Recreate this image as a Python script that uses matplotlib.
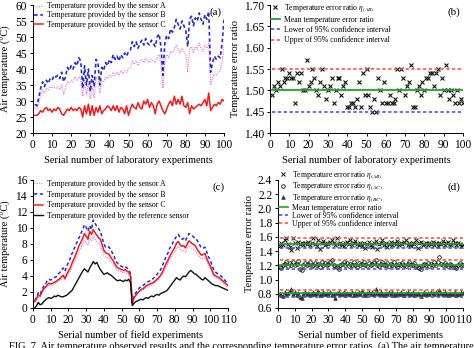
import matplotlib

matplotlib.use("Agg")

import matplotlib.pyplot as plt
import numpy as np

plt.rcParams.update(
    {
        "font.family": ["Liberation Serif", "DejaVu Serif"],
        "mathtext.fontset": "stix",
        "font.size": 7.5,
        "axes.labelsize": 7.5,
        "xtick.labelsize": 8.3,
        "ytick.labelsize": 8.3,
        "axes.linewidth": 0.7,
        "xtick.direction": "out",
        "ytick.direction": "out",
        "xtick.major.size": 2.2,
        "ytick.major.size": 2.2,
        "xtick.major.width": 0.7,
        "ytick.major.width": 0.7,
        "xtick.major.pad": 2,
        "ytick.major.pad": 2,
        "axes.spines.top": False,
        "axes.spines.right": False,
    }
)

# ---------------------------------------------------------------- data (a)
lab_a = [28, 27.5, 29.5, 31.5, 33.5, 32.5, 34, 33.5, 34.5, 34,
         34.5, 34, 34.5, 33.5, 35, 32, 34, 36, 35.5, 36.5,
         36, 37.5, 36.5, 37.5, 37, 31.5, 36.5, 32, 35.5, 30.5,
         34.5, 31, 37.5, 37, 32.5, 36.5, 36, 37.5, 37, 38,
         37.5, 39, 38, 39, 38, 39.5, 38.5, 39.5, 39, 40,
         40.5, 42.5, 41.5, 42.5, 41, 42.5, 43, 42, 43.5, 42.5,
         42, 43, 42.5, 42, 43.5, 44.5, 41.5, 34, 42.5, 44.5,
         43.5, 45.5, 45, 46, 47.5, 46.5, 45, 46.5, 45.5, 44.5,
         39, 46.5, 47, 45, 47, 46, 48, 46.5, 45.5, 47.5,
         46.5, 48, 35, 37.5, 38.5, 38, 39, 39.5, 42, 47]
lab_b = [29, 28.5, 31, 34, 36, 34.5, 36.5, 35.5, 37, 36.5,
         38, 37.5, 38, 37, 39, 36, 37.5, 40.5, 39.5, 41,
         40, 42, 41, 43.5, 42.5, 34, 41, 35, 40, 33,
         38, 34.5, 43, 42, 35, 40.5, 39.5, 42, 41, 43,
         42, 44.5, 43, 44, 42.5, 44.5, 43.5, 45, 44, 45.5,
         46, 48.5, 47, 48.5, 46.5, 48, 49, 47.5, 49.5, 48,
         47.5, 49, 48, 47, 50, 51, 47, 38, 48, 50.5,
         49.5, 52.5, 51.5, 53, 55.5, 54, 52.5, 55, 53.5, 52,
         47, 55.5, 56.5, 53.5, 56, 55, 57.5, 55.5, 54, 57,
         55.5, 58, 39, 42, 44, 43, 44, 43.5, 48, 55.5]
lab_c = [25.5, 25.5, 26, 27, 26.5, 27.5, 28, 27, 27.5, 26.5,
         27.5, 27, 28, 27.5, 26, 25.5, 26.5, 27.5, 27, 28,
         27, 27.5, 27, 28, 27.5, 25, 28.5, 26, 29, 25.5,
         28.5, 25.5, 28, 26.5, 28.5, 26, 27, 27.5, 28.5, 28,
         27, 28.5, 27, 28.5, 26.5, 28, 27.5, 26, 28.5, 25.5,
         27.5, 29, 28, 27.5, 29.5, 28, 27.5, 30, 29, 30.5,
         28, 29.5, 28.5, 26, 29, 30, 28.5, 27, 26, 27.5,
         29, 30, 28.5, 31.5, 29, 30.5, 29, 31.5, 28.5, 28,
         29.5, 26, 28.5, 27.5, 28, 28.5, 29, 28.5, 29.5, 30.5,
         28.5, 32.5, 27, 28, 29, 28.5, 29.5, 29, 30.5, 30]

# ---------------------------------------------------------------- data (b)
ratio_ab_lab = [1.49, 1.51, 1.50, 1.52, 1.51, 1.55, 1.52, 1.53, 1.53, 1.54,
                1.53, 1.53, 1.47, 1.54, 1.52, 1.54, 1.50, 1.50, 1.57, 1.51,
                1.52, 1.55, 1.53, 1.50, 1.49, 1.52, 1.55, 1.51, 1.48, 1.50,
                1.51, 1.53, 1.47, 1.50, 1.53, 1.53, 1.49, 1.51, 1.52, 1.46,
                1.46, 1.47, 1.47, 1.46, 1.48, 1.52, 1.46, 1.54, 1.49, 1.55,
                1.49, 1.46, 1.45, 1.48, 1.45, 1.53, 1.50, 1.47, 1.52, 1.47,
                1.47, 1.49, 1.47, 1.47, 1.48, 1.55, 1.50, 1.55, 1.53, 1.49,
                1.51, 1.52, 1.56, 1.46, 1.46, 1.50, 1.51, 1.49, 1.52, 1.50,
                1.53, 1.53, 1.54, 1.54, 1.51, 1.54, 1.55, 1.49, 1.53, 1.50,
                1.56, 1.50, 1.48, 1.50, 1.49, 1.47, 1.50, 1.47, 1.48, 1.47]
lab_mean, lab_lo, lab_hi = 1.50, 1.45, 1.55

# ---------------------------------------------------------------- data (c)
field_a = [0.7, 1.1, 1.4, 1.3, 1.8, 2.2, 2.4, 2.7, 2.9, 2.8,
           2.9, 3.0, 3.1, 3.3, 3.4, 3.6, 3.8, 3.5, 3.9, 4.3,
           4.6, 5.1, 5.6, 6.0, 6.6, 7.1, 7.5, 7.9, 8.5, 8.2,
           7.9, 8.8, 8.4, 9.0, 8.6, 8.3, 8.0, 7.9, 7.2, 6.6,
           6.4, 6.3, 6.2, 5.8, 5.6, 5.2, 4.8, 4.7, 4.6, 4.5,
           4.4, 4.5, 4.3, 4.2, 3.8, 0.5, 1.2, 1.5, 1.8, 2.0,
           2.2, 2.3, 2.4, 2.6, 2.7, 2.8, 2.9, 3.0, 3.2, 3.4,
           3.6, 3.9, 4.2, 4.7, 5.1, 5.5, 5.9, 6.3, 6.7, 7.0,
           7.5, 7.7, 7.3, 7.1, 7.2, 7.0, 7.4, 7.8, 7.6, 7.4,
           7.3, 7.0, 6.7, 6.4, 6.1, 6.2, 6.3, 5.8, 5.3, 4.9,
           4.4, 3.9, 3.8, 3.7, 3.6, 3.4, 3.2, 3.0, 2.8, 2.6]
field_b = [0.9, 1.4, 1.9, 1.7, 2.3, 2.7, 3.0, 3.4, 3.6, 3.5,
           3.6, 3.8, 3.9, 4.2, 4.4, 4.7, 5.0, 4.6, 5.2, 5.7,
           6.2, 6.8, 7.3, 7.8, 8.3, 8.8, 9.3, 9.8, 10.4, 10.1,
           9.6, 10.3, 9.8, 11.0, 10.6, 10.2, 9.9, 9.6, 8.8, 8.0,
           7.6, 7.7, 7.6, 7.2, 6.8, 6.3, 5.8, 5.5, 5.3, 5.2,
           5.1, 5.2, 5.0, 4.8, 4.3, 0.7, 1.5, 1.9, 2.2, 2.5,
           2.7, 2.8, 3.0, 3.2, 3.3, 3.4, 3.6, 3.7, 4.0, 4.2,
           4.5, 4.8, 5.3, 5.8, 6.4, 6.8, 7.4, 7.8, 8.2, 8.6,
           9.0, 9.2, 8.8, 8.6, 8.7, 8.4, 8.9, 9.3, 9.2, 9.0,
           8.8, 8.7, 8.3, 7.9, 7.5, 7.5, 7.6, 7.0, 6.4, 6.0,
           5.3, 4.8, 4.5, 4.3, 4.2, 4.0, 3.8, 3.5, 3.3, 3.0]
field_c = [0.8, 1.2, 1.6, 1.5, 2.0, 2.4, 2.6, 2.9, 3.1, 3.0,
           3.1, 3.2, 3.3, 3.5, 3.6, 3.9, 4.1, 3.7, 4.2, 4.6,
           5.0, 5.6, 6.1, 6.6, 7.2, 7.8, 8.2, 8.7, 9.3, 9.0,
           8.6, 9.6, 9.2, 9.8, 9.4, 9.1, 8.8, 8.6, 7.9, 7.2,
           6.9, 6.8, 6.7, 6.3, 6.0, 5.6, 5.2, 5.0, 4.9, 4.8,
           4.7, 4.8, 4.6, 4.5, 4.0, 0.6, 1.3, 1.6, 1.9, 2.1,
           2.3, 2.4, 2.6, 2.8, 2.9, 3.0, 3.1, 3.2, 3.4, 3.6,
           3.8, 4.1, 4.5, 5.0, 5.5, 5.9, 6.4, 6.8, 7.2, 7.6,
           8.1, 8.3, 7.9, 7.7, 7.8, 7.5, 8.0, 8.4, 8.2, 8.0,
           7.9, 7.6, 7.2, 6.9, 6.6, 6.7, 6.8, 6.2, 5.7, 5.3,
           4.7, 4.2, 4.0, 3.9, 3.8, 3.6, 3.4, 3.2, 3.0, 2.8]
field_ref = [0.0, 0.3, 0.7, 0.4, 0.5, 0.8, 1.0, 1.2, 1.3, 1.2,
             1.3, 1.5, 1.4, 1.6, 1.5, 1.4, 1.4, 1.5, 1.6, 1.8,
             2.0, 2.2, 2.6, 3.0, 3.4, 3.8, 4.2, 4.6, 4.9, 4.7,
             4.5, 5.0, 5.4, 5.8, 5.5, 5.7, 5.2, 4.8, 4.5, 4.2,
             4.3, 4.4, 4.2, 4.1, 3.9, 3.7, 3.5, 3.4, 3.5, 3.4,
             3.3, 3.5, 3.4, 3.6, 3.2, 0.3, 0.6, 0.8, 0.9, 1.0,
             1.1, 1.0, 1.2, 1.3, 1.2, 1.4, 1.5, 1.4, 1.6, 1.7,
             1.6, 1.8, 1.9, 2.0, 2.1, 2.3, 2.6, 2.9, 3.2, 3.5,
             3.8, 3.6, 3.5, 3.8, 4.0, 3.9, 4.2, 4.5, 4.7, 4.5,
             4.3, 4.2, 4.0, 3.8, 3.6, 3.5, 3.8, 3.6, 3.4, 3.2,
             3.0, 2.9, 2.8, 2.8, 2.7, 2.6, 2.5, 2.4, 2.3, 2.2]

# ---------------------------------------------------------------- data (d)
ratio_ab = [1.47, 1.52, 1.49, 1.55, 1.58, 1.50, 1.46, 1.42, 1.59, 1.51,
            1.45, 1.53, 1.50, 1.52, 1.48, 1.51, 1.50, 1.53, 1.49, 1.52,
            1.58, 1.50, 1.47, 1.55, 1.43, 1.51, 1.54, 1.49, 1.52, 1.50,
            1.53, 1.55, 1.51, 1.48, 1.59, 1.50, 1.52, 1.49, 1.47, 1.51,
            1.53, 1.50, 1.56, 1.48, 1.52, 1.54, 1.50, 1.49, 1.51, 1.47,
            1.52, 1.44, 1.50, 1.53, 1.49, 1.46, 1.51, 1.54, 1.43, 1.50,
            1.52, 1.55, 1.48, 1.51, 1.46, 1.50, 1.53, 1.49, 1.52, 1.50,
            1.54, 1.48, 1.51, 1.50, 1.53, 1.56, 1.49, 1.51, 1.47, 1.52,
            1.50, 1.55, 1.44, 1.51, 1.53, 1.49, 1.50, 1.52, 1.48, 1.51,
            1.50, 1.53, 1.49, 1.51, 1.47, 1.52, 1.50, 1.54, 1.49, 1.51,
            1.53, 1.50, 1.48, 1.55, 1.51, 1.49, 1.52, 1.50, 1.47, 1.49]
ratio_ac = [1.17, 1.16, 1.20, 1.22, 1.24, 1.19, 1.23, 1.21, 1.25, 1.20,
            1.22, 1.26, 1.15, 1.14, 1.21, 1.23, 1.20, 1.22, 1.24, 1.19,
            1.21, 1.23, 1.20, 1.22, 1.18, 1.24, 1.21, 1.23, 1.20, 1.22,
            1.25, 1.27, 1.21, 1.19, 1.17, 1.15, 1.20, 1.22, 1.24, 1.21,
            1.23, 1.19, 1.22, 1.20, 1.24, 1.21, 1.18, 1.23, 1.20, 1.22,
            1.24, 1.21, 1.19, 1.23, 1.20, 1.22, 1.25, 1.28, 1.21, 1.19,
            1.22, 1.24, 1.20, 1.21, 1.23, 1.19, 1.22, 1.20, 1.24, 1.21,
            1.18, 1.22, 1.20, 1.23, 1.21, 1.19, 1.22, 1.24, 1.20, 1.21,
            1.23, 1.19, 1.17, 1.16, 1.15, 1.20, 1.22, 1.21, 1.23, 1.19,
            1.22, 1.20, 1.24, 1.21, 1.25, 1.32, 1.22, 1.20, 1.23, 1.21,
            1.19, 1.22, 1.20, 1.18, 1.17, 1.16, 1.21, 1.23, 1.20, 1.21]
ratio_bc = [0.80, 0.78, 0.77, 0.82, 0.79, 0.81, 0.84, 0.87, 0.80, 0.82,
            0.78, 0.81, 0.76, 0.74, 0.80, 0.82, 0.79, 0.81, 0.78, 0.80,
            0.82, 0.79, 0.81, 0.84, 0.78, 0.80, 0.83, 0.79, 0.81, 0.80,
            0.82, 0.78, 0.80, 0.74, 0.81, 0.83, 0.79, 0.80, 0.82, 0.78,
            0.81, 0.79, 0.80, 0.83, 0.78, 0.81, 0.80, 0.82, 0.79, 0.84,
            0.80, 0.78, 0.81, 0.83, 0.79, 0.82, 0.80, 0.87, 0.81, 0.79,
            0.82, 0.80, 0.78, 0.81, 0.79, 0.83, 0.80, 0.82, 0.78, 0.80,
            0.81, 0.79, 0.82, 0.80, 0.78, 0.81, 0.83, 0.79, 0.80, 0.82,
            0.78, 0.80, 0.81, 0.79, 0.77, 0.80, 0.82, 0.79, 0.81, 0.80,
            0.83, 0.81, 0.79, 0.82, 0.80, 0.86, 0.81, 0.79, 0.82, 0.80,
            0.78, 0.81, 0.79, 0.80, 0.82, 0.78, 0.80, 0.79, 0.82, 0.81]
field_means = [1.50, 1.21, 0.81]
field_los = [1.44, 1.15, 0.76]
field_his = [1.58, 1.27, 0.86]

# ---------------------------------------------------------------- styling
BLUE = "#2a2ad0"
PINK = "#e07ae0"
RED = "#ee1c1c"
GREEN = "#1fa51f"
CI_BLUE = "#4646d8"
CI_RED = "#ee4a4a"
DASH = (0, (2.2, 1.6))
DOT = (0, (0.8, 1.0))


def leg(ax, spacing, top=1.0):
    ax.legend(loc="upper left", bbox_to_anchor=(0, top), frameon=False,
              fontsize=5.6, handlelength=1.1, handletextpad=0.6,
              borderaxespad=0.05, borderpad=0.1, labelspacing=spacing)


def panel_tag(ax, tag):
    ax.text(0.985, 0.985, tag, transform=ax.transAxes, ha="right", va="top",
            fontsize=8)


W, H = 474, 348
fig = plt.figure(figsize=(W / 100, H / 100), dpi=100)


def px_axes(x0, y0, x1, y1):
    return fig.add_axes([x0 / W, 1 - y1 / H, (x1 - x0) / W, (y1 - y0) / H])


ax_a = px_axes(33, 5, 224, 133)
ax_b = px_axes(270, 5, 463, 133)
ax_c = px_axes(33, 180, 228, 308)
ax_d = px_axes(278, 180, 463, 308)

# (a)
x_lab = np.arange(1, len(lab_a) + 1)
ax_a.plot(x_lab, lab_a, color=PINK, lw=0.9, ls=DOT,
          label="Temperature provided by the sensor A")
ax_a.plot(x_lab, lab_b, color=BLUE, lw=1.2, ls=DASH,
          label="Temperature provided by the sensor B")
ax_a.plot(x_lab, lab_c, color=RED, lw=1.1,
          label="Temperature provided by the sensor C")
ax_a.set_xlim(0, 100)
ax_a.set_ylim(20, 60)
ax_a.set_xticks(range(0, 101, 10))
ax_a.set_yticks(range(20, 61, 5))
ax_a.set_ylabel("Air temperature (°C)", labelpad=3)
ax_a.set_xlabel("Serial number of laboratory experiments", labelpad=3)
leg(ax_a, 0.15, 1.03)
panel_tag(ax_a, "(a)")

# (b)
x_lab_r = np.arange(1, len(ratio_ab_lab) + 1)
ax_b.plot(x_lab_r, ratio_ab_lab, ls="none", marker="x", ms=3, mew=0.8,
          color="#111111", label=r"Temperature error ratio $\eta_{(AB)}$")
ax_b.plot([x_lab_r[0], x_lab_r[-1]], [lab_mean] * 2, color=GREEN, lw=1.3,
          label="Mean temperature error ratio")
ax_b.plot([x_lab_r[0], x_lab_r[-1]], [lab_lo] * 2, color=CI_BLUE, lw=1.1,
          ls=DASH, label="Lower of 95% confidence interval")
ax_b.plot([x_lab_r[0], x_lab_r[-1]], [lab_hi] * 2, color=CI_RED, lw=1.1,
          ls=DASH, label="Upper of 95% confidence interval")
ax_b.set_xlim(0, 100)
ax_b.set_ylim(1.40, 1.70)
ax_b.set_xticks(range(0, 101, 10))
ax_b.set_yticks(np.arange(1.40, 1.701, 0.05))
ax_b.yaxis.set_major_formatter(matplotlib.ticker.FormatStrFormatter("%.2f"))
ax_b.set_ylabel("Temperature error ratio", labelpad=3)
ax_b.set_xlabel("Serial number of laboratory experiments", labelpad=3)
leg(ax_b, 0.28, 1.03)
panel_tag(ax_b, "(b)")

# (c)
x_f = np.arange(1, len(field_a) + 1)
ax_c.plot(x_f, field_a, color=PINK, lw=0.9, ls=DOT,
          label="Temperature provided by the sensor A")
ax_c.plot(x_f, field_b, color=BLUE, lw=1.1, ls=DASH,
          label="Temperature provided by the sensor B")
ax_c.plot(x_f, field_c, color=RED, lw=1.1,
          label="Temperature provided by the sensor C")
ax_c.plot(x_f, field_ref, color="#111111", lw=1.0,
          label="Temperature provided by the reference sensor")
ax_c.set_xlim(0, 110)
ax_c.set_ylim(0, 16)
ax_c.set_xticks(range(0, 111, 10))
ax_c.set_yticks(range(0, 17, 2))
ax_c.set_ylabel("Air temperature (°C)", labelpad=3)
ax_c.set_xlabel("Serial number of field experiments", labelpad=3)
leg(ax_c, 0.35, 1.01)
panel_tag(ax_c, "(c)")

# (d)
x_fr = np.arange(1, len(ratio_ab) + 1)
ax_d.plot(x_fr, ratio_ab, ls="none", marker="x", ms=2.6, mew=0.7,
          color="#111111", label=r"Temperature error ratio $\eta_{(AB)}$")
ax_d.plot(x_fr, ratio_ac, ls="none", marker="o", ms=2.6, mew=0.6,
          mfc="none", color="#111111",
          label=r"Temperature error ratio $\eta_{(AC)}$")
ax_d.plot(x_fr, ratio_bc, ls="none", marker="^", ms=2.6, mew=0.5,
          color="#333333", label=r"Temperature error ratio $\eta_{(BC)}$")
ends = [x_fr[0], x_fr[-1]]
for i, (m, lo, hi) in enumerate(zip(field_means, field_los, field_his)):
    ax_d.plot(ends, [m] * 2, color=GREEN, lw=1.2,
              label="Mean temperature error ratio" if i == 0 else None)
    ax_d.plot(ends, [lo] * 2, color=CI_BLUE, lw=1.1, ls=DASH,
              label="Lower of 95% confidence interval" if i == 0 else None)
    ax_d.plot(ends, [hi] * 2, color=CI_RED, lw=1.1, ls=DASH,
              label="Upper of 95% confidence interval" if i == 0 else None)
ax_d.set_xlim(0, 110)
ax_d.set_ylim(0.6, 2.4)
ax_d.set_xticks(range(0, 111, 10))
ax_d.set_yticks(np.arange(0.6, 2.401, 0.2))
ax_d.yaxis.set_major_formatter(matplotlib.ticker.FormatStrFormatter("%.1f"))
ax_d.set_ylabel("Temperature error ratio", labelpad=3)
ax_d.set_xlabel("Serial number of field experiments", labelpad=3)
leg(ax_d, 0.0, 1.09)
panel_tag(ax_d, "(d)")

fig.text(0.02, 1 - 341 / H,
         "FIG. 7. Air temperature observed results and the corresponding "
         "temperature error ratios. (a) The air temperature",
         fontsize=7.5, va="top", ha="left")

fig.savefig("out.png", dpi=100)
